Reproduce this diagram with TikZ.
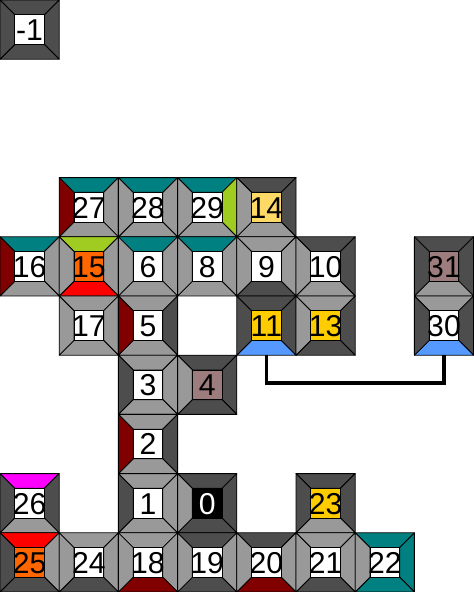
\documentclass[tikz,border=0pt]{standalone}
\usepackage{fontspec}
\setmainfont{Liberation Sans}
\definecolor{dk}{HTML}{4D4D4D}
\definecolor{lt}{HTML}{999999}
\definecolor{cteal}{HTML}{008080}
\definecolor{dred}{HTML}{800000}
\definecolor{lime}{HTML}{A0CC22}
\definecolor{cred}{HTML}{FF0000}
\definecolor{orng}{HTML}{FF6600}
\definecolor{gold}{HTML}{FFCC00}
\definecolor{ylw}{HTML}{FFD966}
\definecolor{blu}{HTML}{5599FF}
\definecolor{mag}{HTML}{FF00FF}
\definecolor{mauve}{HTML}{9C7C7C}
\begin{document}
\begin{tikzpicture}[x=1cm,y=1cm,
  tile/.style={minimum size=1cm,inner sep=0pt,outer sep=0pt},
  face/.style={draw=black,line width=0.4pt,line join=round},
  lab/.style={draw=black,line width=0.4pt,minimum size=0.5cm,text height=0.37cm,text depth=0pt,inner sep=0pt,outer sep=0pt,font=\fontsize{14.5}{15}\selectfont},
  link/.style={line width=1.5pt}]
\useasboundingbox (0,0) rectangle (8,10);
\foreach \c/\r/\T/\R/\B/\L/\F/\X/\n in {
0/0/dk/dk/dk/dk/white/black/-1,
1/3/cteal/lt/lt/dred/white/black/27,
2/3/cteal/lt/lt/lt/white/black/28,
3/3/cteal/lime/lt/lt/white/black/29,
4/3/dk/dk/lt/lt/ylw/black/14,
0/4/cteal/lt/lt/dred/white/black/16,
1/4/lime/lt/cred/lt/orng/black/15,
2/4/cteal/lt/lt/lt/white/black/6,
3/4/cteal/lt/lt/lt/white/black/8,
4/4/lt/lt/dk/lt/white/black/9,
5/4/dk/dk/lt/lt/white/black/10,
7/4/dk/dk/lt/dk/mauve/black/31,
1/5/lt/lt/lt/lt/white/black/17,
2/5/lt/dk/lt/dred/white/black/5,
4/5/dk/dk/blu/dk/gold/black/11,
5/5/lt/dk/dk/lt/gold/black/13,
7/5/lt/dk/blu/dk/white/black/30,
2/6/lt/lt/lt/dk/white/black/3,
3/6/dk/dk/dk/lt/mauve/black/4,
2/7/lt/dk/lt/dred/white/black/2,
0/8/mag/dk/lt/dk/white/black/26,
2/8/lt/lt/lt/dk/white/black/1,
3/8/dk/dk/dk/lt/black/white/0,
5/8/dk/dk/lt/dk/gold/black/23,
0/9/cred/lt/dk/dk/orng/black/25,
1/9/lt/lt/dk/lt/white/black/24,
2/9/lt/lt/dred/lt/white/black/18,
3/9/dk/lt/dk/lt/white/black/19,
4/9/dk/lt/dred/lt/white/black/20,
5/9/lt/lt/dk/lt/white/black/21,
6/9/cteal/cteal/cteal/lt/white/black/22}{
  \begin{scope}[shift={(\c,9-\r)}]
    \node[tile] (t\n) at (0.5,0.5) {};
    \filldraw[face,fill=\T] (0,1) -- (1,1) -- (0.75,0.75) -- (0.25,0.75) -- cycle;
    \filldraw[face,fill=\R] (1,1) -- (1,0) -- (0.75,0.25) -- (0.75,0.75) -- cycle;
    \filldraw[face,fill=\B] (1,0) -- (0,0) -- (0.25,0.25) -- (0.75,0.25) -- cycle;
    \filldraw[face,fill=\L] (0,0) -- (0,1) -- (0.25,0.75) -- (0.25,0.25) -- cycle;
    \node[lab,fill=\F,text=\X] (l\n) at (0.5,0.5) {\makebox[0pt][c]{\n}};
  \end{scope}
}
\draw[link] (t11.south) -- ++(0,-0.47) -| (t30.south);
\end{tikzpicture}
\end{document}
